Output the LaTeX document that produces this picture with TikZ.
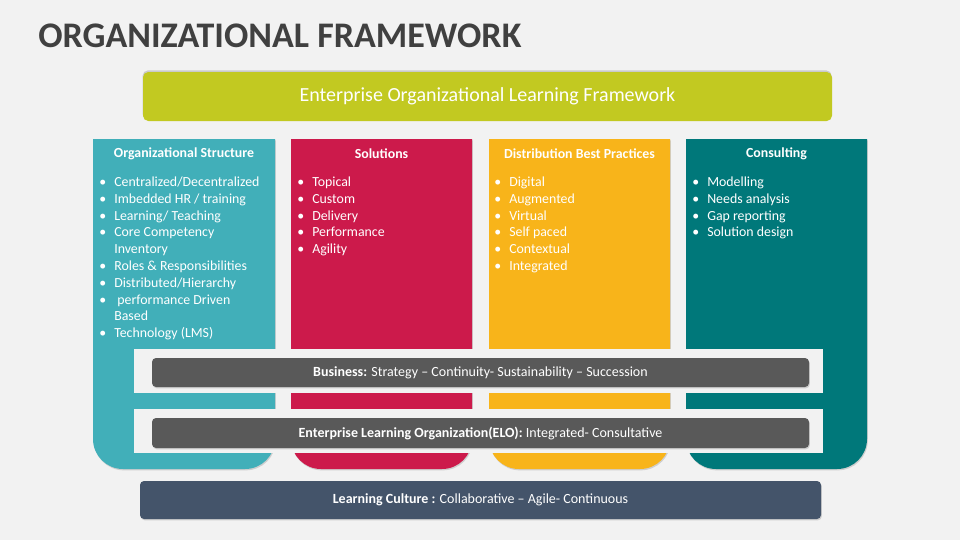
\documentclass[tikz,border=0pt]{standalone}
\usepackage{fontspec}
\setmainfont{Carlito}
\usetikzlibrary{shadows}
\definecolor{pageBg}{HTML}{F2F2F2}
\definecolor{titleGray}{HTML}{404040}
\definecolor{bannerGreen}{HTML}{C2C921}
\definecolor{colTeal}{HTML}{41AFB9}
\definecolor{colCrimson}{HTML}{CC1A4B}
\definecolor{colYellow}{HTML}{F8B41A}
\definecolor{colDarkTeal}{HTML}{00787A}
\definecolor{barGray}{HTML}{595959}
\definecolor{barSlate}{HTML}{44546A}
\tikzset{
  softshadow/.style={drop shadow={opacity=0.3, shadow xshift=0.6pt, shadow yshift=-1pt}},
  colhead/.style={text=white, font=\fontsize{10.4}{12.6}\selectfont\bfseries},
  collist/.style={text=white, font=\fontsize{10.4}{12.6}\selectfont, anchor=north west, align=left, inner sep=0pt},
  barbox/.style={fill=barGray, rounded corners=3pt, text=white, font=\fontsize{10.5}{12}\selectfont, minimum width=492.75pt, softshadow},
}
\newcommand{\bul}{\makebox[11.25pt][l]{\textbullet}}
\newcommand{\cont}{\hspace*{11.25pt}}
% one coloured pillar, square top, rounded bottom
\newcommand{\pillar}[3]{\fill[#1, softshadow] (#2,300) -- (#2,139) -- (#3,139) -- (#3,300) [rounded corners=22.5pt] -- (#3,469) -- (#2,469) -- (#2,300) -- cycle;}
\begin{document}
\begin{tikzpicture}[x=0.75pt, y=-0.75pt]
\fill[pageBg] (0,0) rectangle (960,540);
\useasboundingbox (0,0) rectangle (960,540);
\node[anchor=base west, inner sep=0pt, text=titleGray, font=\fontsize{27}{32}\selectfont\bfseries] (title) at (38,47) {ORGANIZATIONAL FRAMEWORK};
\node[fill=bannerGreen, rounded corners=4pt, minimum width=516.75pt, minimum height=36.75pt, text=white, font=\fontsize{15}{18}\selectfont, drop shadow={opacity=0.35, shadow xshift=-0.3pt, shadow yshift=1.2pt}] (banner) at (487.5,96.5) {Enterprise Organizational Learning Framework};
% pillars
\pillar{colTeal}{93}{275}
\pillar{colCrimson}{291}{472}
\pillar{colYellow}{489}{670}
\pillar{colDarkTeal}{686}{867}
% light bands cut through the pillars
\fill[pageBg] (134,349) rectangle (823,393);
\fill[pageBg] (134,409) rectangle (823,453);
% headers
\node[colhead] (orgHead) at (184,153.5) {Organizational Structure};
\node[colhead] (solHead) at (381.5,153.5) {Solutions};
\node[colhead] (distHead) at (579.5,153.5) {Distribution Best Practices};
\node[colhead] (consHead) at (776.5,153.5) {Consulting};
% lists
\node[collist] (orgList) at (99,176.5) {\bul Centralized/Decentralized\\ \bul Imbedded HR / training\\ \bul Learning/ Teaching\\ \bul Core Competency\\ \cont Inventory\\ \bul Roles \& Responsibilities\\ \bul Distributed/Hierarchy\\ \bul \ performance Driven\\ \cont Based\\ \bul Technology (LMS)};
\node[collist] (solList) at (297,176.5) {\bul Topical\\ \bul Custom\\ \bul Delivery\\ \bul Performance\\ \bul Agility};
\node[collist] (distList) at (494,176.5) {\bul Digital\\ \bul Augmented\\ \bul Virtual\\ \bul Self paced\\ \bul Contextual\\ \bul Integrated};
\node[collist] (consList) at (692,176.5) {\bul Modelling\\ \bul Needs analysis\\ \bul Gap reporting\\ \bul Solution design};
% bars
\node[barbox, minimum height=21.75pt] (bizBar) at (480.5,372.5) {\textbf{Business:} Strategy – Continuity- Sustainability – Succession};
\node[barbox, minimum height=22.5pt] (eloBar) at (480.5,433) {\textbf{Enterprise Learning Organization(ELO):} Integrated- Consultative};
\node[barbox, fill=barSlate, minimum width=510.75pt, minimum height=28.5pt] (cultureBar) at (480.5,500) {\textbf{Learning Culture :} Collaborative – Agile- Continuous};
\end{tikzpicture}
\end{document}
